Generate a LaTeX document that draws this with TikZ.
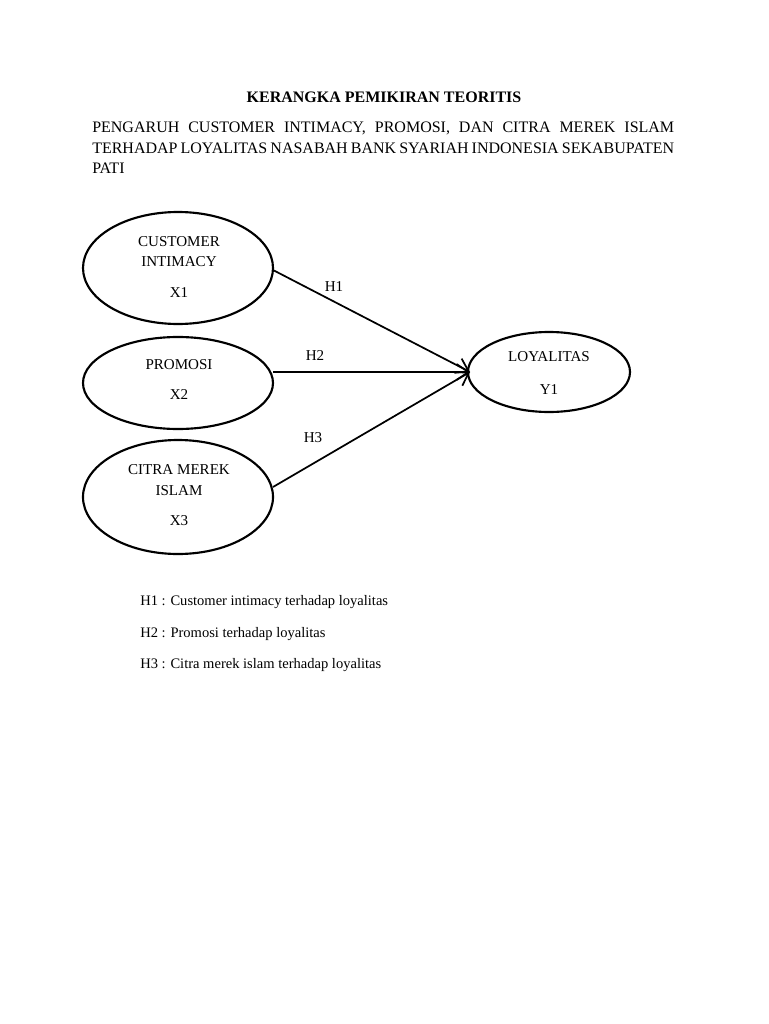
\documentclass[tikz,border=0pt]{standalone}
\usepackage{fontspec}
\setmainfont{Liberation Serif}
\usetikzlibrary{arrows.meta}
\begin{document}
\begin{tikzpicture}[x=0.75pt,y=-0.75pt,
  every node/.style={font=\fontsize{11.3}{15.4}\selectfont, inner sep=0pt},
  big/.style={font=\fontsize{12}{15.4}\selectfont},
  legend/.style={anchor=west, font=\fontsize{10.9}{14}\selectfont},
  oval/.style={line width=1.6pt},
  conn/.style={line width=1.3pt, -{Straight Barb[length=9pt,width=12pt,line width=1.3pt]}}]
\useasboundingbox (0,0) rectangle (768,1024);
\node[big] (title) at (384,97) {\bfseries KERANGKA PEMIKIRAN TEORITIS};
\node[big, anchor=north west, text width=436.5pt, align=justify] (para) at (92,122)
 {PENGARUH CUSTOMER INTIMACY, PROMOSI, DAN CITRA MEREK ISLAM\linebreak TERHADAP LOYALITAS NASABAH BANK SYARIAH INDONESIA SEKABUPATEN\linebreak PATI};
% ellipses
\draw[oval] (178,268) ellipse [x radius=95, y radius=56];
\draw[oval] (178,383) ellipse [x radius=95, y radius=46];
\draw[oval] (178,497) ellipse [x radius=95, y radius=57];
\draw[oval] (549,372) ellipse [x radius=81, y radius=40];
\coordinate (x1e) at (273,270);
\coordinate (x2e) at (273,372);
\coordinate (x3e) at (273,487);
\coordinate (y1w) at (470,372);
\node (c1) at (179,242) {CUSTOMER};
\node (c2) at (179,262) {INTIMACY};
\node (cx) at (179,293) {X1};
\node (p1) at (179,365) {PROMOSI};
\node (px) at (179,395) {X2};
\node (m1) at (179,470) {CITRA MEREK};
\node (m2) at (179,491) {ISLAM};
\node (mx) at (179,521) {X3};
\node (l1) at (549,357) {LOYALITAS};
\node (lx) at (549,390) {Y1};
\draw[conn] (x1e) -- (y1w);
\draw[conn] (x2e) -- (y1w);
\draw[conn] (x3e) -- (y1w);
\node (h1) at (334,287) {H1};
\node (h2) at (315,356) {H2};
\node (h3) at (313,438) {H3};
\node[legend] (g1) at (140,602) {H1 : Customer intimacy terhadap loyalitas};
\node[legend] (g2) at (140,634) {H2 : Promosi terhadap loyalitas};
\node[legend] (g3) at (140,665) {H3 : Citra merek islam terhadap loyalitas};
\end{tikzpicture}
\end{document}
